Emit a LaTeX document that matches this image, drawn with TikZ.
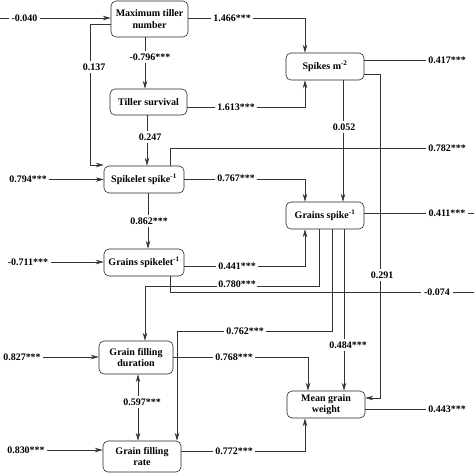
\documentclass[tikz,border=0pt]{standalone}
\usepackage{fontspec}
\setmainfont{Liberation Serif}
\usetikzlibrary{arrows.meta}
\begin{document}
\begin{tikzpicture}[x=1pt,y=-1pt,
  every node/.style={font=\fontsize{10}{11.5}\selectfont\bfseries},
  box/.style={draw=black!85, line width=0.6pt, rounded corners=5pt, align=center, inner sep=1pt},
  lbl/.style={fill=white, inner sep=2.5pt},
  txt/.style={inner sep=2.5pt},
  con/.style={draw=black!80, line width=0.6pt},
  arr/.style={con, -{Stealth[length=8pt,width=4.5pt]}},
  darr/.style={con, {Stealth[length=8pt,width=4.5pt]}-{Stealth[length=8pt,width=4.5pt]}}]
\useasboundingbox (0,0) rectangle (474,474);

% boxes
\node[box, minimum width=77pt, minimum height=36pt] (mtn) at (149.5,19) {Maximum tiller\\number};
\node[box, minimum width=77pt, minimum height=26pt] (ts) at (148.5,102) {Tiller survival};
\node[box, minimum width=78pt, minimum height=27pt] (spm) at (325,66.5) {Spikes m\textsuperscript{-2}};
\node[box, minimum width=80pt, minimum height=27pt] (sps) at (144,179.5) {Spikelet spike\textsuperscript{-1}};
\node[box, minimum width=80pt, minimum height=27pt] (gsl) at (144,262.5) {Grains spikelet\textsuperscript{-1}};
\node[box, minimum width=78pt, minimum height=27pt] (gsp) at (325,215.5) {Grains spike\textsuperscript{-1}};
\node[box, minimum width=74pt, minimum height=33pt] (gfd) at (136,357.5) {Grain filling\\duration};
\node[box, minimum width=78pt, minimum height=31pt] (gfr) at (142,456.5) {Grain filling\\rate};
\node[box, minimum width=78pt, minimum height=27pt] (mgw) at (326,404.5) {Mean grain\\weight};

% left residual labels
\node[txt] (l040) at (24.5,18) {-0.040};
\node[txt] (l794) at (28,179.5) {0.794***};
\node[txt] (l711) at (28,262) {-0.711***};
\node[txt] (l827) at (22,357) {0.827***};
\node[txt] (l830) at (26,450) {0.830***};

% right labels
\node[txt] (r417) at (447,60) {0.417***};
\node[txt] (r782) at (447,148) {0.782***};
\node[txt] (r411) at (447,213) {0.411***};
\node[txt] (r074) at (437,292) {-0.074};
\node[txt] (r443) at (447,409) {0.443***};

% left arrows
\draw[con] (0,18) -- (l040.west);
\draw[arr] (l040.east) -- (mtn.west |- l040.east);
\draw[arr] (l794.east) -- (sps.west |- l794.east);
\draw[arr] (l711.east) -- (gsl.west |- l711.east);
\draw[arr] (l827.east) -- (gfd.west |- l827.east);
\draw[arr] (l830.east) -- (gfr.west |- l830.east);

% connectors
\draw[arr] (mtn.east |- 0,18) -| ([xshift=-20pt]spm.north);
\draw[arr] (ts.east |- 0,107) -| ([xshift=-20pt]spm.south);
\draw[arr] (145,0 |- mtn.south) -- (145,0 |- ts.north);
\draw[arr] (mtn.west |- 0,24) -- (90,24) -- (90,165) -- (sps.west |- 0,165);
\draw[arr] (147,0 |- ts.south) -- (147,0 |- sps.north);
\draw[arr] ([xshift=18pt]spm.south) -- ([xshift=18pt]gsp.north);
\draw[con] (spm.east |- 0,60) -- (r417.west);
\draw[arr] (spm.east |- 0,74) -- (380,74) -- (380,398) -- (mgw.east |- 0,398);
\draw[con] (170,0 |- sps.north) |- (r782.west);
\draw[arr] (sps.east |- 0,179) -| ([xshift=-20pt]gsp.north);
\draw[arr] (148,0 |- sps.south) -- (148,0 |- gsl.north);
\draw[arr] (gsl.east |- 0,266) -| ([xshift=-20pt]gsp.south);
\draw[con] (170,0 |- gsl.south) |- (r074.west);
\draw[con] (r074.east) -- (474,292);
\draw[con] (r411.east) -- (474,213);
\draw[arr] (319,0 |- gsp.south) -- (319,286) -- (145,286) -- (145,0 |- gfd.north);
\draw[arr] (332,0 |- gsp.south) -- (332,331) -- (177,331) -- (177,0 |- gfr.north);
\draw[arr] (344,0 |- gsp.south) -- (344,0 |- mgw.north);
\draw[con] (gsp.east |- 0,213) -- (r411.west);
\draw[arr] (gfd.east |- 0,357) -| (308,0 |- mgw.north);
\draw[arr] (gfr.east |- 0,451) -| (305,0 |- mgw.south);
\draw[darr] (138,0 |- gfd.south) -- (138,0 |- gfr.north);
\draw[con] (mgw.east |- 0,409) -- (r443.west);

% labels on connectors
\node[lbl] (c1466) at (232,18) {1.466***};
\node[lbl] (c1613) at (236,107) {1.613***};
\node[lbl] (c796) at (150,57) {-0.796***};
\node[lbl] (c137) at (94,67) {0.137};
\node[lbl] (c247) at (150,137) {0.247};
\node[lbl] (c052) at (344,127) {0.052};
\node[lbl] (c291) at (382,275) {0.291};
\node[lbl] (c767) at (236,178.5) {0.767***};
\node[lbl] (c862) at (149,221) {0.862***};
\node[lbl] (c441) at (237,266) {0.441***};
\node[lbl, inner sep=1.5pt] (c780) at (237,284.5) {0.780***};
\node[lbl] (c762) at (245,331) {0.762***};
\node[lbl] (c484) at (348,345) {0.484***};
\node[lbl] (c768) at (234,357) {0.768***};
\node[lbl] (c772) at (234,451) {0.772***};
\node[lbl] (c597) at (142,402) {0.597***};
\end{tikzpicture}
\end{document}
